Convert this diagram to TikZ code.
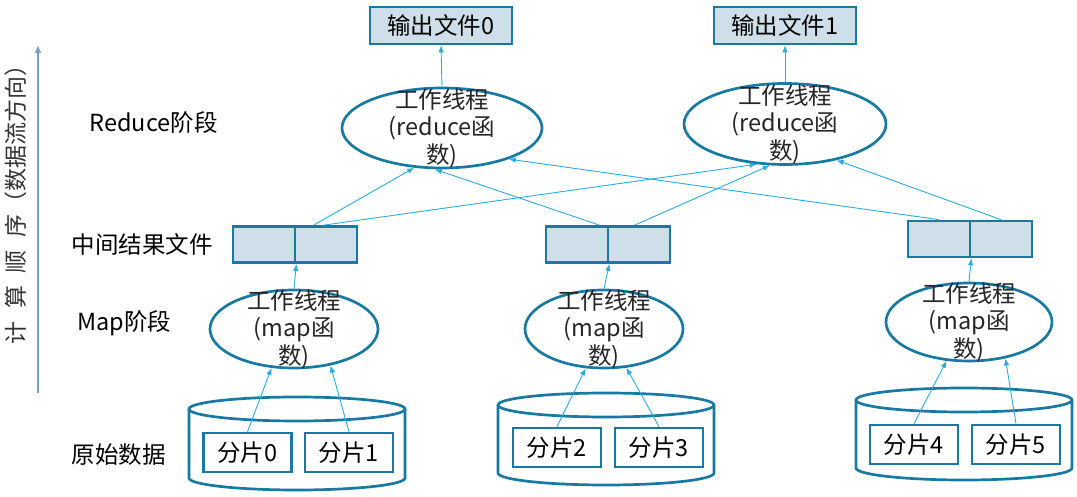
\documentclass[tikz,border=0pt]{standalone}
\usepackage{fontspec}
\setmainfont{Noto Sans CJK SC}
\usetikzlibrary{arrows.meta}
\usetikzlibrary{positioning,shapes.geometric}
\definecolor{edgeblue}{RGB}{24,122,163}
\definecolor{boxfill}{RGB}{207,223,234}
\definecolor{flowblue}{RGB}{41,172,226}
\definecolor{axisblue}{RGB}{122,158,196}

\newcommand{\diskshape}[3]{%
  \draw[disk] (#1,#2) ellipse (108 and 12);
  \draw[disk] (#1-108,#2) -- (#1-108,#3) arc[start angle=180,end angle=0,x radius=108,y radius=12] -- (#1+108,#2);}

\begin{document}
\begin{tikzpicture}[x=1pt,y=-1pt,>={Latex[length=7pt,width=5.5pt]},
    big font/.style={font=\fontsize{23.5}{27.5}\selectfont},
    out box/.style={draw=edgeblue,fill=boxfill,line width=2.7pt,minimum width=142pt,minimum height=37pt,inner sep=0pt,big font},
    mid box/.style={draw=edgeblue,fill=boxfill,line width=2.7pt,minimum width=62pt,minimum height=36pt,inner sep=0pt},
    worker/.style={ellipse,draw=edgeblue,line width=2.7pt,inner sep=0pt},
    worker text/.style={align=center,big font,text=black!85},
    shard/.style={draw=edgeblue,line width=2.7pt,minimum width=88pt,minimum height=39pt,inner sep=0pt,big font},
    stage/.style={anchor=west,big font},
    disk/.style={draw=edgeblue,line width=2.7pt},
    flow/.style={->,draw=flowblue,line width=0.9pt}]

  \useasboundingbox (0,0) rectangle (1077,497);

  % computing order axis
  \coordinate (axisbot) at (38,393);
  \coordinate (axistop) at (38,45);
  \draw[-{Latex[length=8pt,width=7pt]},axisblue,line width=2.5pt] (axisbot) -- (axistop);
  \node[rotate=90,font=\fontsize{23}{25}\selectfont,text=black!80] (order) at (16,199)
    {计\hspace{0.55em}算\hspace{0.55em}顺\hspace{0.55em}序（数据流方向）};

  % stage names
  \node[stage] (lreduce) at (86,123) {Reduce阶段};
  \node[stage] (lmid) at (68,244) {中间结果文件};
  \node[stage] (lmap) at (74,323) {Map阶段};
  \node[stage] (lraw) at (68,455) {原始数据};

  % input data
  \diskshape{297}{409}{478}
  \diskshape{606}{405}{473}
  \diskshape{964}{400}{468}
  \node[shard] (s0) at (247.5,452.5) {分片0};
  \node[shard] (s1) at (349,452.5) {分片1};
  \node[shard] (s2) at (557,447.5) {分片2};
  \node[shard] (s3) at (659,447.5) {分片3};
  \node[shard] (s4) at (914,444.5) {分片4};
  \node[shard] (s5) at (1016,444.5) {分片5};

  % map workers
  \node[worker,minimum width=168pt,minimum height=78pt] (m0) at (294,329) {};
  \node[worker,minimum width=158pt,minimum height=78pt] (m1) at (604,329) {};
  \node[worker,minimum width=166pt,minimum height=78pt] (m2) at (969,322) {};
  \node[worker text] (tm0) at (m0) {工作线程\\(map函\\数)};
  \node[worker text] (tm1) at (m1) {工作线程\\(map函\\数)};
  \node[worker text] (tm2) at (m2) {工作线程\\(map函\\数)};

  % intermediate files
  \node[mid box] (a0) at (264,244.5) {};
  \node[mid box] (a1) at (326,244.5) {};
  \node[mid box] (b0) at (577,244.5) {};
  \node[mid box] (b1) at (639,244.5) {};
  \node[mid box] (c0) at (939,239) {};
  \node[mid box] (c1) at (1001,239) {};

  % reduce workers
  \node[worker,minimum width=200pt,minimum height=80pt] (r0) at (442,128) {};
  \node[worker,minimum width=202pt,minimum height=81pt] (r1) at (785,124) {};
  \node[worker text] (tr0) at (r0) {工作线程\\(reduce函\\数)};
  \node[worker text] (tr1) at (r1) {工作线程\\(reduce函\\数)};

  % output files
  \node[out box] (o0) at (441,25.5) {输出文件0};
  \node[out box] (o1) at (785,25.5) {输出文件1};

  % where the intermediate files send their parts
  \coordinate (a1p) at ([xshift=20pt]a1.north west);
  \coordinate (a1q) at ([xshift=30pt]a1.north west);
  \coordinate (b0p) at ([xshift=-10pt]b0.north east);
  \coordinate (b1p) at ([xshift=28pt]b1.north west);

  % data flow
  \draw[flow] (s0.north) -- (m0.240);
  \draw[flow] (s1.north) -- (m0.-45);
  \draw[flow] (s2.north) -- (m1.245);
  \draw[flow] (s3.north) -- (m1.-60);
  \draw[flow] (s4.north) -- (m2.240);
  \draw[flow] (s5.north) -- (m2.-45);
  \draw[flow] (m0.north) -- (a0.south east);
  \draw[flow] (m1.north) -- (b0.south east);
  \draw[flow] (m2.north) -- (c0.south east);
  \draw[flow] (a1p) -- (r0.-125);
  \draw[flow] (a1q) -- (r1.-125);
  \draw[flow] (b0p) -- (r0.-100);
  \draw[flow] (b1p) -- (r1.-110);
  \draw[flow] (c0.north) -- (r0.-25);
  \draw[flow] (c1.north) -- (r1.-35);
  \draw[flow] (r0.north) -- (o0.south);
  \draw[flow] (r1.north) -- (o1.south);
\end{tikzpicture}
\end{document}
